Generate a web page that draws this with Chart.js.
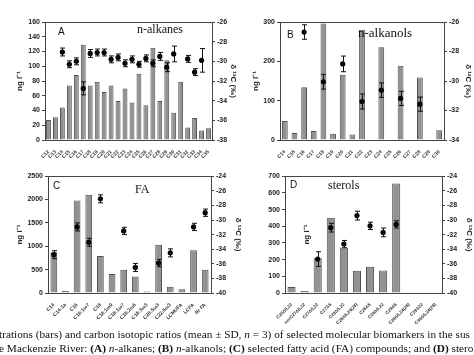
<!DOCTYPE html>
<html><head><meta charset="utf-8">
<script src="https://cdn.jsdelivr.net/npm/chart.js@4.4.1/dist/chart.umd.min.js"></script>
<style>
html,body{margin:0;padding:0;background:#fff;width:474px;height:355px;overflow:hidden;position:relative;}
canvas{position:absolute;}
.t{position:absolute;white-space:nowrap;line-height:1;color:#111;}
.s{font-family:"Liberation Sans",Arial,sans-serif;font-size:10px;}
.r{font-family:"Liberation Serif","Times New Roman",serif;font-size:12px;}
.cap{position:absolute;left:-1px;white-space:nowrap;font-family:"Liberation Serif","Times New Roman",serif;font-size:11.3px;line-height:1;color:#111;}
</style></head><body>
<canvas id="cA" width="240" height="170" style="left:0;top:0"></canvas>
<canvas id="cB" width="234" height="170" style="left:240px;top:0"></canvas>
<canvas id="cC" width="246" height="160" style="left:0;top:170px"></canvas>
<canvas id="cD" width="234" height="160" style="left:240px;top:170px"></canvas>

<div class="t s" style="left:58px;top:27px">A</div>
<div class="t r" style="left:137px;top:23px">n-alkanes</div>
<div class="t s" style="left:287px;top:30px">B</div>
<div class="t r" style="left:358px;top:26px;font-size:13px">n-alkanols</div>
<div class="t s" style="left:53px;top:181px">C</div>
<div class="t r" style="left:135px;top:183px">FA</div>
<div class="t s" style="left:290px;top:180px">D</div>
<div class="t r" style="left:328px;top:179px">sterols</div>

<div class="cap" style="top:329px">trations (bars) and carbon isotopic ratios (mean ± SD, <i>n</i> = 3) of selected molecular biomarkers in the sus</div>
<div class="cap" style="top:343px">e Mackenzie River: <b>(A)</b> <i>n</i>-alkanes; <b>(B)</b> <i>n</i>-alkanols; <b>(C)</b> selected fatty acid (FA) compounds; and <b>(D)</b> sterol c</div>

<script>
// ---- Panel A: n-alkanes ----
const alkaneCats = ['C12','C13','C14','C15','C16','C17','C18','C19','C20','C21','C22','C23','C24','C25','C26','C27','C28','C29','C30','C31','C32','C33','C34','C35'];
const alkaneConc = [27,31,44,74,88,129,74,79,65,74,53,70,51,90,47,125,53,108,37,79,17,30,13,16];
const alkaneD13C = [null,null,-29.05,-30.3,-30.0,-32.75,-29.2,-29.1,-29.1,-29.8,-29.6,-30.2,-29.8,-30.3,-29.7,-30.2,-29.5,-30.6,-29.25,null,-29.75,-31.1,-29.9,null];
const alkaneSD   = [null,null,0.4,0.35,0.35,0.66,0.4,0.35,0.35,0.35,0.35,0.35,0.35,0.3,0.35,0.35,0.4,0.45,0.8,null,0.35,0.35,1.2,null];

// ---- Panel B: n-alkanols ----
const alkanolCats = ['C14','C15','C16','C17','C18','C19','C20','C21','C22','C23','C24','C25','C26','C27','C28','C29','C30'];
const alkanolConc = [48,18,134,23,296,16,166,14,280,null,236,null,189,null,159,null,25];
const alkanolD13C = [null,null,-26.68,null,-30.05,null,-28.84,null,-31.39,null,-30.62,null,-31.18,null,-31.57,null,null];
const alkanolSD   = [null,null,0.49,null,0.5,null,0.53,null,0.51,null,0.49,null,0.48,null,0.48,null,null];

// ---- Panel C: fatty acids ----
const faCats = ['C14','C14:1a','C16','C16:1ω7','C18','C18:1ω9','C18:1ω7','C18:2ω6','C18:3ω3','C20:5ω3','C22:6ω3','LCMUFA','LCFA','Br FA'];
const faConc = [870,45,1978,2105,793,408,498,355,30,1035,135,78,913,500];
const faD13C = [-34.75,null,-30.95,-33.05,-27.1,null,-31.5,-36.5,null,-35.9,-34.5,null,-30.95,-29.0];
const faSD   = [0.55,null,0.55,0.55,0.55,null,0.5,0.55,null,0.5,0.55,null,0.5,0.5];

// ---- Panel D: sterols ----
const sterolCats = ['C26Δ5,22','norC27Δ5,22','C27Δ5,22','C27Δ5','C28Δ5,22','C28Δ5,24(28)','C28Δ5','C29Δ5,22','C29Δ5','C29Δ5,24(28)','C29Δ22','C30Δ5,24(28)'];
const sterolConc = [36,12,209,451,272,133,157,135,656,null,null,null];
const sterolD13C = [null,null,-35.35,-31.05,-33.3,-29.4,-30.8,-31.7,-30.6,null,null,null];
const sterolSD   = [null,null,1.0,0.6,0.5,0.6,0.5,0.6,0.5,null,null,null];

const yTitle = 'ng l⁻¹';
const y2Title = 'δ ¹³C (‰)';

const boxErr = {
  id: 'boxErr',
  afterDatasetsDraw(chart, args, opts) {
    const {ctx, chartArea: a} = chart;
    ctx.save();
    ctx.strokeStyle = '#444';
    ctx.lineWidth = 1;
    ctx.beginPath();
    ctx.moveTo(Math.round(a.left), Math.round(a.top) + 0.5);
    ctx.lineTo(Math.round(a.right), Math.round(a.top) + 0.5);
    ctx.stroke();
    const y2 = chart.scales.y2;
    const meta = chart.getDatasetMeta(0);
    const vals = chart.data.datasets[0].data;
    ctx.strokeStyle = '#111';
    meta.data.forEach((pt, i) => {
      const v = vals[i], e = opts.sd[i];
      if (v == null || e == null) return;
      const x = Math.round(pt.x) + 0.5;
      const yt = y2.getPixelForValue(v + e), yb = y2.getPixelForValue(v - e);
      ctx.beginPath();
      ctx.moveTo(x, yt); ctx.lineTo(x, yb);
      ctx.moveTo(x - 2.5, yt); ctx.lineTo(x + 2.5, yt);
      ctx.moveTo(x - 2.5, yb); ctx.lineTo(x + 2.5, yb);
      ctx.stroke();
    });
    ctx.restore();
  }
};

function makeChart(id, cats, conc, d13c, sd, c) {
  const tickFont = {family: 'Liberation Sans', size: 7, weight: 'bold'};
  const titleFont = {family: 'Liberation Sans', size: 8, weight: 'bold'};
  new Chart(document.getElementById(id), {
    type: 'bar',
    data: {
      labels: cats,
      datasets: [
        {type: 'line', data: d13c, yAxisID: 'y2', showLine: false, order: 0,
         pointRadius: 2.6, pointBackgroundColor: '#000', pointBorderColor: '#000', pointBorderWidth: 0},
        {type: 'bar', data: conc, yAxisID: 'y', order: 1,
         backgroundColor: '#929292', borderColor: '#505050', borderWidth: 1,
         barPercentage: c.barPct, categoryPercentage: 1}
      ]
    },
    options: {
      responsive: false, animation: false, devicePixelRatio: 1,
      layout: {padding: {top: c.padTop, left: 0, right: 0, bottom: 0}},
      plugins: {legend: {display: false}, tooltip: {enabled: false}, boxErr: {sd: sd}},
      scales: {
        x: {
          offset: true,
          grid: {display: false},
          border: {display: true, color: '#444'},
          ticks: {autoSkip: false, minRotation: 45, maxRotation: 45, padding: 1,
                  font: {family: 'Liberation Sans', size: c.xFont, weight: 'bold'}, color: '#333'},
          afterFit(s) { s.height = c.xH; }
        },
        y: {
          position: 'left', min: 0, max: c.yMax,
          ticks: {stepSize: c.yStep, font: tickFont, color: '#222', padding: 2, callback: v => String(v)},
          grid: {drawOnChartArea: false, drawTicks: true, tickLength: 3, color: '#444'},
          border: {display: true, color: '#444'},
          title: {display: true, text: yTitle, font: titleFont, color: '#222', padding: {top: c.tpl, bottom: 0}},
          afterFit(s) { s.width = c.yW; }
        },
        y2: {
          position: 'right', min: c.y2Min, max: c.y2Max,
          ticks: {stepSize: 2, font: tickFont, color: '#222', padding: 2, callback: v => String(v)},
          grid: {drawOnChartArea: false, drawTicks: true, tickLength: 3, color: '#444'},
          border: {display: true, color: '#444'},
          title: {display: true, text: y2Title, font: titleFont, color: '#222', padding: {top: c.tpr, bottom: 0}},
          afterFit(s) { s.width = c.y2W; }
        }
      }
    },
    plugins: [boxErr]
  });
}

makeChart('cA', alkaneCats, alkaneConc, alkaneD13C, alkaneSD,
  {yMax: 160, yStep: 20, y2Min: -38, y2Max: -26, padTop: 22, yW: 45, y2W: 28, xH: 30, tpl: 15, tpr: 2, barPct: 0.7, xFont: 5});
makeChart('cB', alkanolCats, alkanolConc, alkanolD13C, alkanolSD,
  {yMax: 300, yStep: 100, y2Min: -34, y2Max: -26, padTop: 22, yW: 40, y2W: 30, xH: 30, tpl: 11, tpr: 1, barPct: 0.6, xFont: 5});
makeChart('cC', faCats, faConc, faD13C, faSD,
  {yMax: 2500, yStep: 500, y2Min: -40, y2Max: -24, padTop: 6, yW: 48, y2W: 35, xH: 37, tpl: 15, tpr: 3, barPct: 0.58, xFont: 5});
makeChart('cD', sterolCats, sterolConc, sterolD13C, sterolSD,
  {yMax: 700, yStep: 100, y2Min: -40, y2Max: -24, padTop: 6, yW: 45, y2W: 32, xH: 37, tpl: 62, tpr: 0, barPct: 0.62, xFont: 4.5});
</script>
</body></html>
